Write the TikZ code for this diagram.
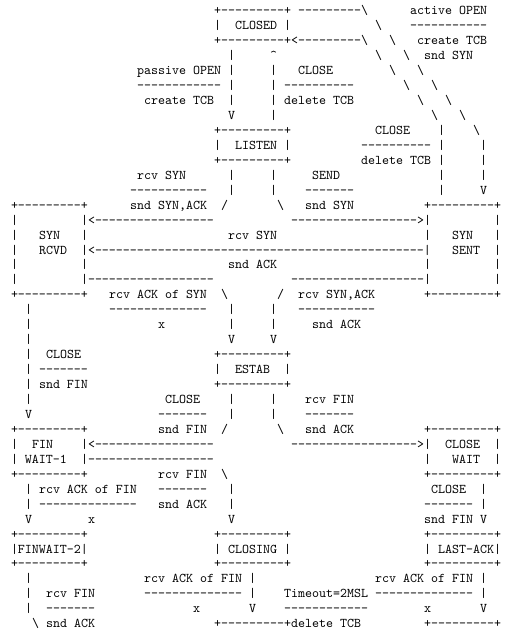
\documentclass[tikz,border=0pt]{standalone}
\usepackage{fontspec}
\setmonofont{lmmono10-regular.otf}
\newcommand\bs{\textbackslash}
\newcommand\putseg[3]{\node[asc] (s#1x#2) at ({4pt+7pt*#2},{-14.8pt-14.95pt*#1}) {#3};}
\tikzset{asc/.style={anchor=base west,inner sep=0pt,outer sep=0pt,text=black,font=\ttfamily\fontsize{13.3333pt}{15pt}\selectfont}}
\begin{document}
\begin{tikzpicture}
\useasboundingbox[fill=white] (0,0) rectangle (523pt,-630pt);
% row 0
\putseg{0}{30}{+---------+}\putseg{0}{42}{---------\bs}\putseg{0}{58}{active OPEN}
% row 1
\putseg{1}{30}{|}\putseg{1}{33}{CLOSED}\putseg{1}{40}{|}\putseg{1}{53}{\bs}\putseg{1}{58}{-----------}
% row 2
\putseg{2}{30}{+---------+<---------\bs}\putseg{2}{55}{\bs}\putseg{2}{59}{create TCB}
% row 3
\putseg{3}{32}{|}\putseg{3}{38}{\textasciicircum}\putseg{3}{53}{\bs}\putseg{3}{57}{\bs}\putseg{3}{60}{snd SYN}
% row 4
\putseg{4}{19}{passive OPEN |}\putseg{4}{38}{|}\putseg{4}{42}{CLOSE}\putseg{4}{55}{\bs}\putseg{4}{59}{\bs}
% row 5
\putseg{5}{19}{------------ |}\putseg{5}{38}{| ----------}\putseg{5}{57}{\bs}\putseg{5}{61}{\bs}
% row 6
\putseg{6}{20}{create TCB}\putseg{6}{32}{|}\putseg{6}{38}{| delete TCB}\putseg{6}{59}{\bs}\putseg{6}{63}{\bs}
% row 7
\putseg{7}{32}{V}\putseg{7}{38}{|}\putseg{7}{61}{\bs}\putseg{7}{65}{\bs}
% row 8
\putseg{8}{30}{+---------+}\putseg{8}{53}{CLOSE}\putseg{8}{62}{|}\putseg{8}{67}{\bs}
% row 9
\putseg{9}{30}{|}\putseg{9}{33}{LISTEN}\putseg{9}{40}{|}\putseg{9}{51}{---------- |}\putseg{9}{68}{|}
% row 10
\putseg{10}{30}{+---------+}\putseg{10}{51}{delete TCB |}\putseg{10}{68}{|}
% row 11
\putseg{11}{19}{rcv SYN}\putseg{11}{32}{|}\putseg{11}{38}{|}\putseg{11}{44}{SEND}\putseg{11}{62}{|}\putseg{11}{68}{|}
% row 12
\putseg{12}{18}{-----------}\putseg{12}{32}{|}\putseg{12}{38}{|}\putseg{12}{43}{-------}\putseg{12}{62}{|}\putseg{12}{68}{V}
% row 13
\putseg{13}{1}{+---------+}\putseg{13}{18}{snd SYN,ACK}\putseg{13}{31}{/}\putseg{13}{39}{\bs}\putseg{13}{43}{snd SYN}\putseg{13}{60}{+---------+}
% row 14
\putseg{14}{1}{|}\putseg{14}{11}{|<-----------------}\putseg{14}{41}{------------------>|}\putseg{14}{70}{|}
% row 15
\putseg{15}{1}{|}\putseg{15}{5}{SYN}\putseg{15}{11}{|}\putseg{15}{32}{rcv SYN}\putseg{15}{60}{|}\putseg{15}{64}{SYN}\putseg{15}{70}{|}
% row 16
\putseg{16}{1}{|}\putseg{16}{5}{RCVD}\putseg{16}{11}{|<-----------------------------------------------|}\putseg{16}{64}{SENT}\putseg{16}{70}{|}
% row 17
\putseg{17}{1}{|}\putseg{17}{11}{|}\putseg{17}{32}{snd ACK}\putseg{17}{60}{|}\putseg{17}{70}{|}
% row 18
\putseg{18}{1}{|}\putseg{18}{11}{|------------------}\putseg{18}{41}{-------------------|}\putseg{18}{70}{|}
% row 19
\putseg{19}{1}{+---------+}\putseg{19}{15}{rcv ACK of SYN}\putseg{19}{31}{\bs}\putseg{19}{39}{/}\putseg{19}{42}{rcv SYN,ACK}\putseg{19}{60}{+---------+}
% row 20
\putseg{20}{3}{|}\putseg{20}{15}{--------------}\putseg{20}{32}{|}\putseg{20}{38}{|}\putseg{20}{42}{-----------}
% row 21
\putseg{21}{3}{|}\putseg{21}{22}{x}\putseg{21}{32}{|}\putseg{21}{38}{|}\putseg{21}{44}{snd ACK}
% row 22
\putseg{22}{3}{|}\putseg{22}{32}{V}\putseg{22}{38}{V}
% row 23
\putseg{23}{3}{|}\putseg{23}{6}{CLOSE}\putseg{23}{30}{+---------+}
% row 24
\putseg{24}{3}{| -------}\putseg{24}{30}{|}\putseg{24}{33}{ESTAB}\putseg{24}{40}{|}
% row 25
\putseg{25}{3}{| snd FIN}\putseg{25}{30}{+---------+}
% row 26
\putseg{26}{3}{|}\putseg{26}{23}{CLOSE}\putseg{26}{32}{|}\putseg{26}{38}{|}\putseg{26}{43}{rcv FIN}
% row 27
\putseg{27}{3}{V}\putseg{27}{22}{-------}\putseg{27}{32}{|}\putseg{27}{38}{|}\putseg{27}{43}{-------}
% row 28
\putseg{28}{1}{+---------+}\putseg{28}{22}{snd FIN}\putseg{28}{31}{/}\putseg{28}{39}{\bs}\putseg{28}{43}{snd ACK}\putseg{28}{60}{+---------+}
% row 29
\putseg{29}{1}{|}\putseg{29}{4}{FIN}\putseg{29}{11}{|<-----------------}\putseg{29}{41}{------------------>|}\putseg{29}{63}{CLOSE}\putseg{29}{70}{|}
% row 30
\putseg{30}{1}{| WAIT-1}\putseg{30}{11}{|------------------}\putseg{30}{60}{|}\putseg{30}{64}{WAIT}\putseg{30}{70}{|}
% row 31
\putseg{31}{1}{+---------+}\putseg{31}{22}{rcv FIN}\putseg{31}{31}{\bs}\putseg{31}{60}{+---------+}
% row 32
\putseg{32}{3}{| rcv ACK of FIN}\putseg{32}{22}{-------}\putseg{32}{32}{|}\putseg{32}{61}{CLOSE}\putseg{32}{68}{|}
% row 33
\putseg{33}{3}{| --------------}\putseg{33}{22}{snd ACK}\putseg{33}{32}{|}\putseg{33}{60}{------- |}
% row 34
\putseg{34}{3}{V}\putseg{34}{12}{x}\putseg{34}{32}{V}\putseg{34}{60}{snd FIN V}
% row 35
\putseg{35}{1}{+---------+}\putseg{35}{30}{+---------+}\putseg{35}{60}{+---------+}
% row 36
\putseg{36}{1}{|FINWAIT-2|}\putseg{36}{30}{| CLOSING |}\putseg{36}{60}{| LAST-ACK|}
% row 37
\putseg{37}{1}{+---------+}\putseg{37}{30}{+---------+}\putseg{37}{60}{+---------+}
% row 38
\putseg{38}{3}{|}\putseg{38}{20}{rcv ACK of FIN |}\putseg{38}{53}{rcv ACK of FIN |}
% row 39
\putseg{39}{3}{|}\putseg{39}{6}{rcv FIN}\putseg{39}{20}{-------------- |}\putseg{39}{40}{Timeout=2MSL -------------- |}
% row 40
\putseg{40}{3}{|}\putseg{40}{6}{-------}\putseg{40}{27}{x}\putseg{40}{35}{V}\putseg{40}{40}{------------}\putseg{40}{60}{x}\putseg{40}{68}{V}
% row 41
\putseg{41}{4}{\bs}\putseg{41}{6}{snd ACK}\putseg{41}{30}{+---------+delete TCB}\putseg{41}{60}{+---------+}
\end{tikzpicture}
\end{document}
